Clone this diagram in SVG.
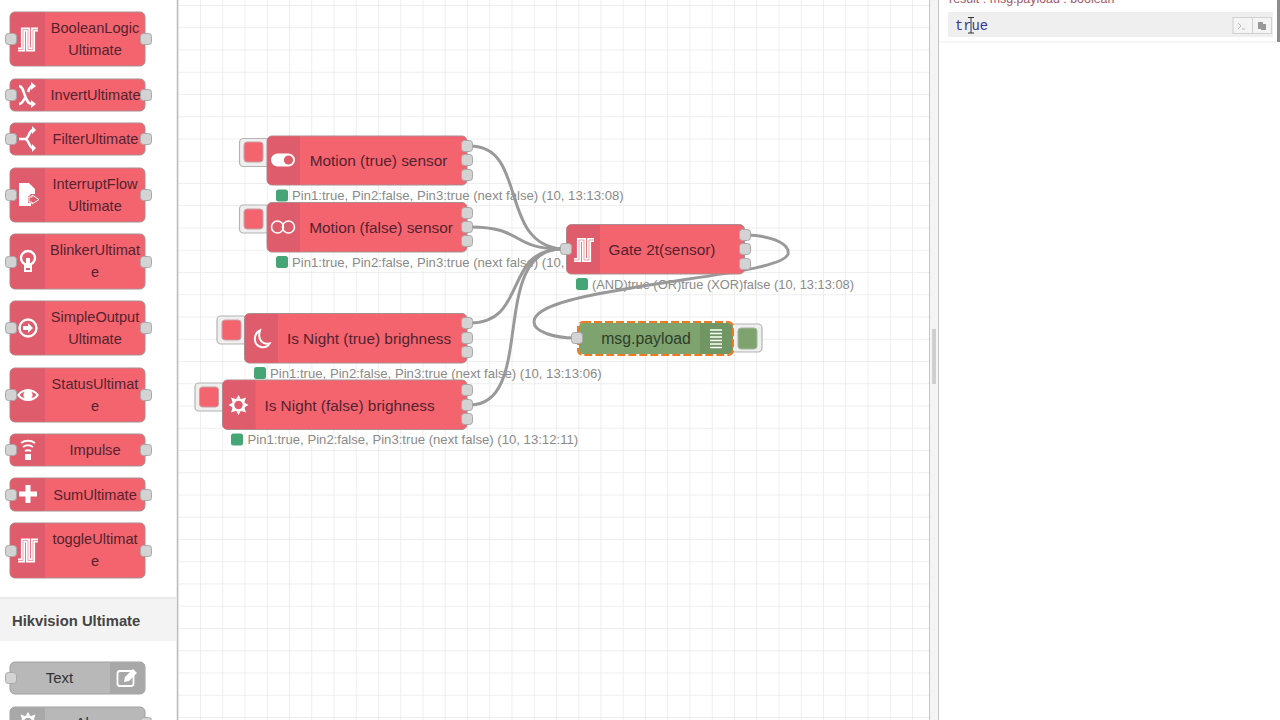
<svg xmlns="http://www.w3.org/2000/svg" xmlns:xlink="http://www.w3.org/1999/xlink" width="1280" height="720" viewBox="0 0 1280 720">
<style>
text{font-family:"Liberation Sans",Arial,sans-serif}
.body{fill:#f4646f;stroke:#a98d90;stroke-width:1}
.side{fill:#de5c6b}
.grey{fill:#b8b8b8;stroke:#a0a0a0;stroke-width:1}
.greyside{fill:#a8a8a8}
.green{fill:none;stroke:#f07a22;stroke-width:2;stroke-dasharray:8 3}
.greenside{fill:#6f9663}
.port{fill:#d3d3d3;stroke:#a8a8a8;stroke-width:1}
.lbl{font-size:14.6px;fill:#55222e;text-anchor:middle}
.clbl{font-size:15.4px;fill:#55222e;text-anchor:middle}
.glbl{font-size:15px;fill:#333;text-anchor:middle}
.st{font-size:13.15px;fill:#8a8a8a}
.dot{fill:#45a574}
.btn{fill:#efefef;stroke:#b4b4b4;stroke-width:1.2}
.btnin{fill:#f4646f;stroke:#c9a0a5;stroke-width:1}
.wire{fill:none;stroke:#999;stroke-width:3;stroke-linecap:round}
.ws{fill:none;stroke:#fff;stroke-width:2.6}
.ws2{fill:none;stroke:#fff;stroke-width:2}
.ws1{fill:none;stroke:#fff;stroke-width:1.4}
.wf{fill:#fff}
</style>
<defs>
<pattern id="grid" x="200" y="5" width="22.25" height="22.25" patternUnits="userSpaceOnUse">
<path d="M0 0V22.25M0 0H22.25" fill="none" stroke="#e9e9e9" stroke-width="1.5"/>
</pattern>
<g id="i-pulse"><path d="M-10 10.5H-5V-9.5H0V10.5H5V-9.5H10" fill="none" stroke="#fff" stroke-width="4.2"/><path d="M-10 10.5H-5V-9.5H0V10.5H5V-9.5H10" fill="none" stroke="#ea7a86" stroke-width="0.7"/></g>
<g id="i-shuffle"><path class="ws" d="M-8 -9C-2 -9 -3 9 5 9M-8 9C-5 9 -4 6 -2 3M1 -3C2 -6 3 -9 5 -9"/><path class="wf" d="M4 -13L9 -9L4 -5ZM4 5L9 9L4 13Z"/></g>
<g id="i-filter"><path class="ws" d="M-9 0H-3C1 0 1 -9 5 -9M-3 0C1 0 1 9 5 9"/><path class="wf" d="M4 -13L8 -9L4 -5ZM4 5L8 9L4 13Z"/></g>
<g id="i-doc"><path class="wf" d="M-10 -12H0L6 -6V-1H2L-1 2V8H2V11H-10Z"/><path d="M3 0L10 4.5L3 9V7H0V2H3Z" fill="none" stroke="#fff" stroke-width="1"/></g>
<g id="i-bulb"><circle cx="0" cy="-3" r="7" fill="none" stroke="#fff" stroke-width="2.4"/><path class="ws2" d="M-3 3V10H3V3M-3 6H3M-1 -3V3M1 -3V3"/></g>
<g id="i-goto"><circle r="8.5" fill="none" stroke="#fff" stroke-width="2.4"/><path class="wf" d="M-5 -2H0V-5L5 0L0 5V2H-5Z"/></g>
<g id="i-eye"><path class="wf" d="M-11 0C-6 -8 6 -8 11 0C6 8 -6 8 -11 0ZM-8.5 0C-4 5 4 5 8.5 0C4 -5 -4 -5 -8.5 0Z"/><circle r="4.6" class="wf"/></g>
<g id="i-wave"><path class="ws2" d="M-7 -7C-3 -10 3 -10 7 -7M-5 -3C-2 -5 2 -5 5 -3M-3 1C-1 0 1 0 3 1"/><rect x="-3" y="4" width="6" height="6" class="wf"/></g>
<g id="i-plus"><path class="wf" d="M-2.5 -9H2.5V-2.5H9V2.5H2.500V9H-2.5V2.5H-9V-2.5H-2.500Z"/></g>
<g id="i-edit"><rect x="-9.500" y="-7" width="16" height="15" rx="2.500" fill="none" stroke="#fff" stroke-width="1.800"/><path class="wf" d="M-3 4L-2 -1L6 -9L10 -5L2 3Z"/></g>
<g id="i-sun"><circle r="5.500" fill="none" stroke="#fff" stroke-width="2.600"/><path class="wf" d="M-2 -6.500L0 -10L2 -6.500ZM-2 6.500L0 10L2 6.500ZM-6.500 -2L-10 0L-6.500 2ZM6.500 -2L10 0L6.500 2ZM-6 -3L-7.500 -7.500L-3 -6ZM6 -3L7.500 -7.500L3 -6ZM-6 3L-7.500 7.500L-3 6ZM6 3L7.500 7.500L3 6Z"/></g>
<g id="i-moon"><path d="M-1 -8.500C-8 -5 -8 6 0 8C4 9 7 7 8.500 4.500C2 6 -4 1 -1 -8.500Z" fill="none" stroke="#fff" stroke-width="2"/></g>
<g id="i-on"><rect x="-12" y="-6.500" width="24" height="13" rx="6.500" class="wf"/><circle cx="5.500" r="4.600" fill="#e05c6b"/></g>
<g id="i-off"><circle cx="-5.500" r="6" fill="none" stroke="#fff" stroke-width="1.600"/><circle cx="5.500" r="6" fill="none" stroke="#fff" stroke-width="1.600"/></g>
<g id="i-list"><path class="ws1" d="M-6 -9H6M-6 -5.500H6M-6 -2H6M-6 1.500H6M-6 5H6M-6 8.500H6"/></g>
</defs>

<rect width="1280" height="720" fill="#fff"/>
<rect x="178" y="0" width="751" height="720" fill="url(#grid)"/>
<rect x="0" y="0" width="177" height="720" fill="#fff"/>
<rect x="0" y="598" width="176" height="43" fill="#f3f3f3"/>
<path d="M0 598H176" stroke="#e4e4e4" stroke-width="1.500"/>
<path d="M177.500 0V720" stroke="#bdbdbd" stroke-width="1.500"/>
<text x="12" y="625.500" font-size="14.800" font-weight="bold" fill="#444">Hikvision Ultimate</text>

<g id="sidebar-resize">
<rect x="930" y="0" width="8.500" height="720" fill="#f4f4f4"/>
<path d="M929.500 0V720M938.500 0V720" stroke="#c6c6c6" stroke-width="1"/>
<rect x="932" y="329" width="4" height="55" fill="#cfcfcf"/>
</g>

<g id="debug-panel">
<text x="949" y="3" font-size="12.400" fill="#a2566b">result : msg.payload : boolean</text>
<rect x="948" y="12" width="325" height="25" fill="#efefef"/>
<path d="M939 42H1277" stroke="#f2f2f2" stroke-width="1.500"/>
<text x="955" y="30" font-size="13.800" fill="#35358f" style="font-family:'Liberation Mono','DejaVu Sans Mono',monospace">true</text>
<path d="M968 17.500H974M971 17.500V33M968 33H974" fill="none" stroke="#333" stroke-width="1"/>
<rect x="1233" y="17.500" width="19.500" height="16" fill="#f4f4f4" stroke="#d0d0d0"/>
<rect x="1252.500" y="17.500" width="19" height="16" fill="#f4f4f4" stroke="#d0d0d0"/>
<path d="M1238 23L1241 26L1238 29M1242 29H1245" fill="none" stroke="#bbb" stroke-width="1"/>
<path d="M1258 22H1263V29H1258ZM1261 24H1266V30H1261Z" fill="#999"/>
<rect x="1277" y="0" width="3" height="42" fill="#8c8c8c"/>
</g>

<g id="palette-boolean"><rect class="body" x="10" y="12" width="135" height="54" rx="5"/><path class="side" d="M15 12.500H45V65.500H15Q10.500 65.500 10.500 61V17Q10.500 12.500 15 12.500Z"/><use xlink:href="#i-pulse" href="#i-pulse" x="28" y="39"/><rect class="port" x="5.500" y="33.500" width="11" height="11" rx="3"/><rect class="port" x="140.500" y="33.500" width="11" height="11" rx="3"/><text class="lbl" x="95" y="33">BooleanLogic</text><text class="lbl" x="95" y="55">Ultimate</text></g>
<g id="palette-invert"><rect class="body" x="10" y="79" width="135" height="32" rx="5"/><path class="side" d="M15 79.500H45V110.500H15Q10.500 110.500 10.500 106V84Q10.500 79.500 15 79.500Z"/><use xlink:href="#i-shuffle" href="#i-shuffle" x="27" y="95"/><rect class="port" x="5.500" y="89.500" width="11" height="11" rx="3"/><rect class="port" x="140.500" y="89.500" width="11" height="11" rx="3"/><text class="lbl" x="95.500" y="99.500">InvertUltimate</text></g>
<g id="palette-filter"><rect class="body" x="10" y="123" width="135" height="32" rx="5"/><path class="side" d="M15 123.500H45V154.500H15Q10.500 154.500 10.500 150V128Q10.500 123.500 15 123.500Z"/><use xlink:href="#i-filter" href="#i-filter" x="28" y="139"/><rect class="port" x="5.500" y="133.500" width="11" height="11" rx="3"/><rect class="port" x="140.500" y="133.500" width="11" height="11" rx="3"/><text class="lbl" x="95.500" y="144">FilterUltimate</text></g>
<g id="palette-interrupt"><rect class="body" x="10" y="168" width="135" height="54" rx="5"/><path class="side" d="M15 168.500H45V221.500H15Q10.500 221.500 10.500 217V173Q10.500 168.500 15 168.500Z"/><use xlink:href="#i-doc" href="#i-doc" x="29" y="195"/><rect class="port" x="5.500" y="189.500" width="11" height="11" rx="3"/><rect class="port" x="140.500" y="189.500" width="11" height="11" rx="3"/><text class="lbl" x="95" y="188.500">InterruptFlow</text><text class="lbl" x="95" y="210.500">Ultimate</text></g>
<g id="palette-blinker"><rect class="body" x="10" y="234" width="135" height="55" rx="5"/><path class="side" d="M15 234.500H45V288.500H15Q10.500 288.500 10.500 284V239Q10.500 234.500 15 234.500Z"/><use xlink:href="#i-bulb" href="#i-bulb" x="28" y="261"/><rect class="port" x="5.500" y="256.500" width="11" height="11" rx="3"/><rect class="port" x="140.500" y="256.500" width="11" height="11" rx="3"/><text class="lbl" x="95" y="255">BlinkerUltimat</text><text class="lbl" x="95" y="277">e</text></g>
<g id="palette-simple"><rect class="body" x="10" y="301" width="135" height="54" rx="5"/><path class="side" d="M15 301.500H45V354.500H15Q10.500 354.500 10.500 350V306Q10.500 301.500 15 301.500Z"/><use xlink:href="#i-goto" href="#i-goto" x="28" y="328"/><rect class="port" x="5.500" y="322.500" width="11" height="11" rx="3"/><rect class="port" x="140.500" y="322.500" width="11" height="11" rx="3"/><text class="lbl" x="95" y="322">SimpleOutput</text><text class="lbl" x="95" y="344">Ultimate</text></g>
<g id="palette-status"><rect class="body" x="10" y="368" width="135" height="54" rx="5"/><path class="side" d="M15 368.500H45V421.500H15Q10.500 421.500 10.500 417V373Q10.500 368.500 15 368.500Z"/><use xlink:href="#i-eye" href="#i-eye" x="28" y="395"/><rect class="port" x="5.500" y="389.500" width="11" height="11" rx="3"/><rect class="port" x="140.500" y="389.500" width="11" height="11" rx="3"/><text class="lbl" x="95" y="388.500">StatusUltimat</text><text class="lbl" x="95" y="410.500">e</text></g>
<g id="palette-impulse"><rect class="body" x="10" y="434" width="135" height="32" rx="5"/><path class="side" d="M15 434.500H45V465.500H15Q10.500 465.500 10.500 461V439Q10.500 434.500 15 434.500Z"/><use xlink:href="#i-wave" href="#i-wave" x="28" y="450"/><rect class="port" x="5.500" y="444.500" width="11" height="11" rx="3"/><rect class="port" x="140.500" y="444.500" width="11" height="11" rx="3"/><text class="lbl" x="95" y="455">Impulse</text></g>
<g id="palette-sum"><rect class="body" x="10" y="478" width="135" height="33" rx="5"/><path class="side" d="M15 478.500H45V510.500H15Q10.500 510.500 10.500 506V483Q10.500 478.500 15 478.500Z"/><use xlink:href="#i-plus" href="#i-plus" x="28" y="494"/><rect class="port" x="5.500" y="489.500" width="11" height="11" rx="3"/><rect class="port" x="140.500" y="489.500" width="11" height="11" rx="3"/><text class="lbl" x="95" y="499.500">SumUltimate</text></g>
<g id="palette-toggle"><rect class="body" x="10" y="523" width="135" height="55" rx="5"/><path class="side" d="M15 523.500H45V577.500H15Q10.500 577.500 10.500 573V528Q10.500 523.500 15 523.500Z"/><use xlink:href="#i-pulse" href="#i-pulse" x="28" y="550"/><rect class="port" x="5.500" y="545.500" width="11" height="11" rx="3"/><rect class="port" x="140.500" y="545.500" width="11" height="11" rx="3"/><text class="lbl" x="95" y="544">toggleUltimat</text><text class="lbl" x="95" y="566">e</text></g>
<g id="palette-text"><rect class="grey" x="10" y="662" width="135" height="32" rx="5"/><path class="greyside" d="M110 662.500H140Q144.500 662.500 144.500 667V689Q144.500 693.500 140 693.500H110Z"/><use xlink:href="#i-edit" href="#i-edit" x="127" y="678"/><rect class="port" x="5.500" y="672.500" width="11" height="11" rx="3"/><text class="glbl" x="59.500" y="683">Text</text></g>
<g id="palette-alarm"><rect class="grey" x="10" y="707" width="135" height="32" rx="5"/><path class="greyside" d="M15 707.500H45V738H15Q10.500 738 10.500 734V712Q10.500 707.500 15 707.500Z"/><use xlink:href="#i-sun" href="#i-sun" x="28" y="722"/><rect class="port" x="140.500" y="717.500" width="11" height="11" rx="3"/><text class="glbl" x="95" y="728">Alarm</text></g>

<g id="status-labels">
<g id="status-motion-true"><rect class="dot" x="276" y="189.500" width="12" height="12" rx="2.500"/><text class="st" x="292" y="200">Pin1:true, Pin2:false, Pin3:true (next false) (10, 13:13:08)</text></g>
<g id="status-motion-false"><rect class="dot" x="276" y="256" width="12" height="12" rx="2.500"/><text class="st" x="292" y="266.500">Pin1:true, Pin2:false, Pin3:true (next false) (10,</text></g>
<g id="status-night-true"><rect class="dot" x="254" y="367" width="12" height="12" rx="2.500"/><text class="st" x="270" y="377.500">Pin1:true, Pin2:false, Pin3:true (next false) (10, 13:13:06)</text></g>
<g id="status-night-false"><rect class="dot" x="231" y="433.500" width="12" height="12" rx="2.500"/><text class="st" x="247.500" y="444">Pin1:true, Pin2:false, Pin3:true (next false) (10, 13:12:11)</text></g>
<g id="status-gate"><rect class="dot" x="576" y="278" width="12" height="12" rx="2.500"/><text class="st" x="592" y="288.500" style="font-size:12.85px">(AND)true (OR)true (XOR)false (10, 13:13:08)</text></g>
</g>

<g id="connectors">
<path class="wire" d="M470 146C528 146 498 244 562 249"/>
<path class="wire" d="M470 227C525 227 510 249 562 249"/>
<path class="wire" d="M470 323C528 323 503 249 562 249"/>
<path class="wire" d="M470 405C537 405 488 249 562 249"/>
<path class="wire" d="M747 235C775 236 790 245 788 254C784 270 680 278 620 290C570 298 534 308 534 322C534 332 555 338 575 338"/>
</g>

<g id="node-motion-true">
<rect class="btn" x="239.500" y="138.500" width="30" height="28" rx="4"/><rect class="btnin" x="244" y="142" width="19" height="20" rx="3"/>
<rect class="body" x="267" y="136" width="200" height="49" rx="5"/><path class="side" d="M272 136.500H300V184.500H272Q267.500 184.500 267.500 180V141Q267.500 136.500 272 136.500Z"/>
<use xlink:href="#i-on" href="#i-on" x="283" y="160"/><text class="clbl" x="378.500" y="166">Motion (true) sensor</text>
<rect class="port" x="461.500" y="140.500" width="11" height="11" rx="3"/><rect class="port" x="461.500" y="154.500" width="11" height="11" rx="3"/><rect class="port" x="461.500" y="169.500" width="11" height="11" rx="3"/>
</g>
<g id="node-motion-false">
<rect class="btn" x="239.500" y="205" width="30" height="28" rx="4"/><rect class="btnin" x="244" y="209" width="19" height="20" rx="3"/>
<rect class="body" x="267" y="202.500" width="200" height="49.500" rx="5"/><path class="side" d="M272 203H300V251.500H272Q267.500 251.500 267.500 247V207.500Q267.500 203 272 203Z"/>
<use xlink:href="#i-off" href="#i-off" x="283" y="227"/><text class="clbl" x="381" y="232.500">Motion (false) sensor</text>
<rect class="port" x="461.500" y="207.500" width="11" height="11" rx="3"/><rect class="port" x="461.500" y="221.500" width="11" height="11" rx="3"/><rect class="port" x="461.500" y="235.500" width="11" height="11" rx="3"/>
</g>
<g id="node-night-true">
<rect class="btn" x="217" y="316" width="30" height="28" rx="4"/><rect class="btnin" x="222" y="320" width="19" height="20" rx="3"/>
<rect class="body" x="244.500" y="313.500" width="222.500" height="49.500" rx="5"/><path class="side" d="M249 314H278V362.500H249Q245 362.500 245 358V318.500Q245 314 249 314Z"/>
<use xlink:href="#i-moon" href="#i-moon" x="261" y="339"/><text class="clbl" x="369" y="344">Is Night (true) brighness</text>
<rect class="port" x="461.500" y="317.500" width="11" height="11" rx="3"/><rect class="port" x="461.500" y="332.500" width="11" height="11" rx="3"/><rect class="port" x="461.500" y="346.500" width="11" height="11" rx="3"/>
</g>
<g id="node-night-false">
<rect class="btn" x="195" y="383" width="30" height="28" rx="4"/><rect class="btnin" x="199.500" y="387" width="19" height="20" rx="3"/>
<rect class="body" x="222.500" y="380" width="244.500" height="49.500" rx="5"/><path class="side" d="M227 380.500H255.500V429H227Q223 429 223 425V385Q223 380.500 227 380.500Z"/>
<use xlink:href="#i-sun" href="#i-sun" x="238.500" y="405"/><text class="clbl" x="349.500" y="410.500">Is Night (false) brighness</text>
<rect class="port" x="461.500" y="384.500" width="11" height="11" rx="3"/><rect class="port" x="461.500" y="399.500" width="11" height="11" rx="3"/><rect class="port" x="461.500" y="413.500" width="11" height="11" rx="3"/>
</g>
<g id="node-gate">
<rect class="body" x="566.500" y="224.500" width="178" height="49.500" rx="5"/><path class="side" d="M571 225H600V273.500H571Q567 273.500 567 269V229.500Q567 225 571 225Z"/>
<use xlink:href="#i-pulse" href="#i-pulse" x="584" y="249.500"/><text class="clbl" x="662" y="255">Gate 2t(sensor)</text>
<rect class="port" x="560.500" y="243.500" width="11" height="11" rx="3"/>
<rect class="port" x="739.500" y="229.500" width="11" height="11" rx="3"/><rect class="port" x="739.500" y="243.500" width="11" height="11" rx="3"/><rect class="port" x="739.500" y="258.500" width="11" height="11" rx="3"/>
</g>
<g id="node-debug">
<rect class="btn" x="731" y="324" width="31" height="28" rx="4"/><rect x="738" y="328" width="19" height="21" rx="3" fill="#7ea36f" stroke="#a5b59e"/>
<path class="greenside" d="M700 323H728Q733 323 733 328V349Q733 354 728 354H700Z"/>
<path fill="#7ea36f" d="M583 323H700V354H583Q579 354 579 350V327Q579 323 583 323Z"/>
<rect class="green" x="578" y="322" width="155" height="33" rx="5"/>
<use xlink:href="#i-list" href="#i-list" x="716" y="339"/><text class="clbl" x="646" y="344" style="fill:#2e3d2a;font-size:15.800px">msg.payload</text>
<rect class="port" x="571.500" y="332.500" width="11" height="11" rx="3"/>
</g>
</svg>
